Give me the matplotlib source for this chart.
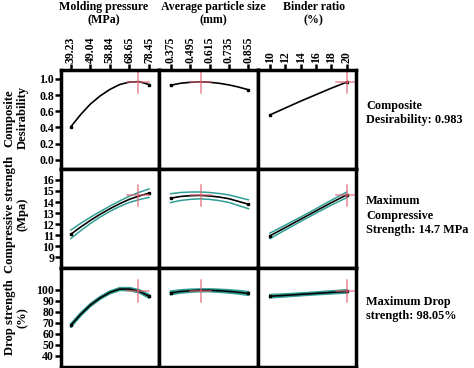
import matplotlib
import matplotlib.pyplot as plt
import numpy as np

matplotlib.use("Agg")

plt.rcParams["font.family"] = ["Liberation Serif", "DejaVu Serif"]
plt.rcParams["font.weight"] = "bold"

# factor levels (x values)
pressure = [39.23, 44.13, 49.04, 53.94, 58.84, 63.74, 68.65, 73.55, 78.45]
particle = [0.375, 0.435, 0.495, 0.555, 0.615, 0.675, 0.735, 0.795, 0.855]
binder = [10, 12, 14, 16, 18, 20]

pressure_ticks = [39.23, 49.04, 58.84, 68.65, 78.45]
particle_ticks = [0.375, 0.495, 0.615, 0.735, 0.855]
binder_ticks = [10, 12, 14, 16, 18, 20]

# composite desirability
des_pressure = [0.41, 0.56, 0.69, 0.79, 0.87, 0.93, 0.96, 0.965, 0.93]
des_particle = [0.92, 0.945, 0.957, 0.963, 0.958, 0.945, 0.925, 0.898, 0.865]
des_binder = [0.555, 0.64, 0.725, 0.805, 0.885, 0.96]

# compressive strength (MPa) and confidence half widths
cs_pressure = [11.1, 11.75, 12.35, 12.9, 13.4, 13.85, 14.25, 14.55, 14.8]
cs_pressure_ci = [0.38, 0.33, 0.28, 0.25, 0.24, 0.25, 0.28, 0.33, 0.38]
cs_particle = [14.35, 14.5, 14.57, 14.6, 14.55, 14.45, 14.3, 14.05, 13.8]
cs_particle_ci = [0.4, 0.36, 0.33, 0.31, 0.31, 0.32, 0.34, 0.37, 0.4]
cs_binder = [10.95, 11.7, 12.45, 13.2, 13.95, 14.65]
cs_binder_ci = [0.25, 0.22, 0.2, 0.2, 0.22, 0.25]

# drop strength (%) and confidence half widths
ds_pressure = [67.5, 77.5, 86.0, 92.5, 97.5, 100.5, 100.5, 98.5, 94.0]
ds_pressure_ci = [1.5, 1.3, 1.2, 1.1, 1.1, 1.1, 1.2, 1.3, 1.5]
ds_particle = [97.0, 98.3, 99.0, 99.4, 99.4, 99.0, 98.4, 97.6, 96.5]
ds_particle_ci = [1.5, 1.3, 1.2, 1.1, 1.1, 1.2, 1.3, 1.4, 1.5]
ds_binder = [94.0, 94.8, 95.7, 96.6, 97.5, 98.4]
ds_binder_ci = [1.3, 1.2, 1.1, 1.1, 1.2, 1.3]

# optimum settings
opt_x = [72.8, 0.56, 20]
opt_y = [0.965, 14.6, 98.6]

col_titles = ["Molding pressure\n(MPa)", "Average particle size\n(mm)", "Binder ratio\n(%)"]
row_titles = ["Composite\nDesirability", "Compressive strength\n(Mpa)", "Drop strength\n(%)"]
side_texts = ["Composite\nDesirability: 0.983",
              "Maximum\nCompressive\nStrength: 14.7 MPa",
              "Maximum Drop\nstrength: 98.05%"]

xs = [pressure, particle, binder]
xticks = [pressure_ticks, particle_ticks, binder_ticks]
xlims = [(34.3, 83.7), (0.306, 0.912), (8.4, 21.2)]
ylims = [(-0.11, 1.11), (8.08, 17.0), (30, 120)]
yticks = [np.arange(0, 1.01, 0.2), np.arange(9, 17, 1), np.arange(40, 101, 10)]
yfmt = ["{:.1f}", "{:.0f}", "{:.0f}"]

data = [
    [(des_pressure, None), (des_particle, None), (des_binder, None)],
    [(cs_pressure, cs_pressure_ci), (cs_particle, cs_particle_ci), (cs_binder, cs_binder_ci)],
    [(ds_pressure, ds_pressure_ci), (ds_particle, ds_particle_ci), (ds_binder, ds_binder_ci)],
]

teal = "#2f9e96"
red = "#e0606f"

fig, axes = plt.subplots(3, 3, figsize=(4.74, 3.68), dpi=100)
fig.subplots_adjust(left=0.129, right=0.751, top=0.81, bottom=0.004,
                    wspace=0, hspace=0)

for r in range(3):
    for c in range(3):
        ax = axes[r, c]
        x = np.array(xs[c])
        y, ci = data[r][c]
        y = np.array(y)
        if ci is not None:
            ci = np.array(ci)
            lw_band = 1.4 if r == 2 else 1.1
            ax.plot(x, y + ci, color=teal, lw=lw_band)
            ax.plot(x, y - ci, color=teal, lw=lw_band)
        ax.plot(x, y, color="black", lw=1.2)
        ax.plot([x[0], x[-1]], [y[0], y[-1]], "s", color="black", ms=1.8)

        ax.set_xlim(*xlims[c])
        ax.set_ylim(*ylims[r])

        # optimum crosshair
        x0, x1 = xlims[c]
        y0, y1 = ylims[r]
        xf = (opt_x[c] - x0) / (x1 - x0)
        yf = (opt_y[r] - y0) / (y1 - y0)
        ax.plot([xf - 0.11, xf + 0.11], [yf, yf], color=red, lw=1.1,
                alpha=0.75, transform=ax.transAxes)
        ax.plot([xf, xf], [yf - 0.11, yf + 0.11], color=red, lw=1.1,
                alpha=0.75, transform=ax.transAxes)

        for s in ax.spines.values():
            s.set_linewidth(2.5)

        if r == 0:
            ax.xaxis.tick_top()
            ax.set_xticks(xticks[c])
            ax.set_xticklabels([str(t) for t in xticks[c]], rotation=90,
                               fontsize=8.5, fontweight="bold")
            ax.tick_params(axis="x", direction="out", length=4, width=1.8, pad=1)
        else:
            ax.set_xticks([])

        if c == 0:
            ax.set_yticks(yticks[r])
            ax.set_yticklabels([yfmt[r].format(t) for t in yticks[r]],
                               fontsize=8.5, fontweight="bold")
            ax.tick_params(axis="y", direction="out", length=4, width=1.8, pad=1)
        else:
            ax.set_yticks([])

for c, (title, xc) in enumerate(zip(col_titles, [0.218, 0.45, 0.662])):
    fig.text(xc, 0.997, title, ha="center", va="top", fontsize=8.6,
             fontweight="bold", linespacing=1.1)

for r, yc in enumerate([0.68, 0.418, 0.137]):
    fig.text(0.034, yc, row_titles[r], ha="center", va="center", rotation=90,
             fontsize=9.1, fontweight="bold", linespacing=1.1)

for r, yc in enumerate([0.693, 0.414, 0.16]):
    fig.text(0.772, yc, side_texts[r], ha="left", va="center", fontsize=8.8,
             fontweight="bold", linespacing=1.3)

fig.savefig("out.png", dpi=100)
